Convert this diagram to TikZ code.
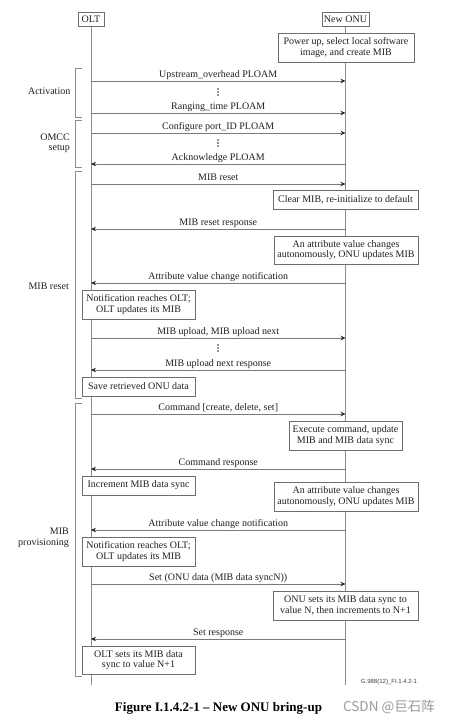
\documentclass[tikz,border=0pt]{standalone}
\usepackage{fontspec}
\setmainfont{Liberation Serif}
\newfontfamily\sansf{Liberation Sans}
\newfontfamily\cjkf{Noto Sans CJK SC}
\usetikzlibrary{arrows.meta}
\definecolor{lifegray}{HTML}{8C8C8C}
\definecolor{boxgray}{HTML}{6E6E6E}
\definecolor{txt}{HTML}{202020}
\definecolor{shaft}{HTML}{7A7A7A}
\begin{document}
\begin{tikzpicture}[x=1pt,y=-1pt,
  basefont/.style={font=\fontsize{10}{10.5}\selectfont, text=txt},
  head/.style={basefont, draw=boxgray, line width=0.8pt, fill=white, minimum height=14pt, inner sep=0pt},
  actbox/.style={basefont, draw=boxgray, line width=0.8pt, fill=white, inner sep=0pt, align=center},
  life/.style={draw=lifegray, line width=0.9pt},
  msg/.style={draw=shaft, line width=0.7pt, -{Stealth[length=5pt,width=4.5pt,color=black!85]}},
  msglab/.style={basefont, anchor=base, yshift=3.4pt, inner sep=0pt},
  brk/.style={draw=lifegray, line width=0.8pt},
  grplab/.style={basefont, align=right, anchor=east, inner sep=0pt},
  dotc/.style={fill=black!85, draw=none}
]
\useasboundingbox[fill=white] (0,0) rectangle (454,722);

% lifelines
\coordinate (oltend) at (91,685);
\coordinate (onuend) at (345.5,685);
\node[head, minimum width=26pt] (olt) at (91,19) {OLT};
\node[head, minimum width=47pt] (onu) at (345.5,19) {New ONU};
\draw[life] (olt.south) -- (oltend);
\draw[life] (onu.south) -- (onuend);
\node[head, minimum width=26pt] (olt) at (91,19) {OLT};
\node[head, minimum width=47pt] (onu) at (345.5,19) {New ONU};

% lifeline coordinates
\foreach \n/\y in {1/81,2/113,3/133,4/164,5/184,6/229,7/283,8/338,9/370,10/414,11/469,12/530,13/584,14/639}{
  \coordinate (o\n) at (91,\y);
  \coordinate (n\n) at (345.5,\y);
}

% action boxes
\node[actbox, minimum width=136pt, minimum height=29pt] (pwr) at (346,47.5) {Power up, select local software\\image, and create MIB};
\node[actbox, minimum width=145pt, minimum height=19pt] (clr) at (345.5,199.5) {Clear MIB, re-initialize to default};
\node[actbox, minimum width=144pt, minimum height=28pt] (attr1) at (346,250) {An attribute value changes\\autonomously, ONU updates MIB};
\node[actbox, minimum width=113pt, minimum height=29pt] (noti1) at (138.5,304.5) {Notification reaches OLT;\\OLT updates its MIB};
\node[actbox, minimum width=113pt, minimum height=19pt] (save) at (138.5,386.5) {Save retrieved ONU data};
\node[actbox, minimum width=113pt, minimum height=29pt] (exec) at (345.5,435.5) {Execute command, update\\MIB and MIB data sync};
\node[actbox, minimum width=113pt, minimum height=19pt] (incr) at (138.5,485.5) {Increment MIB data sync};
\node[actbox, minimum width=144pt, minimum height=29pt] (attr2) at (346,496.5) {An attribute value changes\\autonomously, ONU updates MIB};
\node[actbox, minimum width=113pt, minimum height=29pt] (noti2) at (138.5,551.5) {Notification reaches OLT;\\OLT updates its MIB};
\node[actbox, minimum width=145pt, minimum height=29pt] (onuset) at (345.5,605.5) {ONU sets its MIB data sync to\\value N, then increments to N+1};
\node[actbox, minimum width=113pt, minimum height=28pt] (oltset) at (138.5,660) {OLT sets its MIB data\\sync to value N+1};

% messages
\draw[msg] (o1) -- node[msglab]{Upstream\_overhead PLOAM} (n1);
\draw[msg] (o2) -- node[msglab]{Ranging\_time PLOAM} (n2);
\draw[msg] (o3) -- node[msglab]{Configure port\_ID PLOAM} (n3);
\draw[msg] (n4) -- node[msglab]{Acknowledge PLOAM} (o4);
\draw[msg] (o5) -- node[msglab]{MIB reset} (n5);
\draw[msg] (n6) -- node[msglab]{MIB reset response} (o6);
\draw[msg] (n7) -- node[msglab]{Attribute value change notification} (o7);
\draw[msg] (o8) -- node[msglab]{MIB upload, MIB upload next} (n8);
\draw[msg] (n9) -- node[msglab]{MIB upload next response} (o9);
\draw[msg] (o10) -- node[msglab]{Command [create, delete, set]} (n10);
\draw[msg] (n11) -- node[msglab]{Command response} (o11);
\draw[msg] (n12) -- node[msglab]{Attribute value change notification} (o12);
\draw[msg] (o13) -- node[msglab]{Set (ONU data (MIB data syncN))} (n13);
\draw[msg] (n14) -- node[msglab]{Set response} (o14);

% vertical ellipses
\foreach \y in {92,143,348}{
  \foreach \d in {-3,0,3}{ \fill[dotc] (218,\y+\d) circle (0.8pt); }
}

% brackets
\draw[brk] (82,68) -- (75.5,68) -- (75.5,117) -- (82,117);
\draw[brk] (82,120) -- (75.5,120) -- (75.5,167) -- (82,167);
\draw[brk] (82,171) -- (75.5,171) -- (75.5,398) -- (82,398);
\draw[brk] (82,403) -- (75.5,403) -- (75.5,676) -- (82,676);

% group labels
\node[grplab] (gact) at (70.5,91) {Activation};
\node[grplab] (gomcc) at (70,143.5) {OMCC\\setup};
\node[grplab] (greset) at (69,286) {MIB reset};
\node[grplab] (gprov) at (69,538) {MIB\\provisioning};

% figure id and caption
\node[font=\sansf\fontsize{6}{7}\selectfont, text=black!75, inner sep=0pt] (figid) at (389,682) {G.988(12)\_FI.1.4.2-1};
\node[font=\fontsize{13}{15}\selectfont\bfseries, text=black, inner sep=0pt] (cap) at (218.5,708) {Figure I.1.4.2-1 – New ONU bring-up};
\node[font=\cjkf\fontsize{13.5}{15}\selectfont, text=black!40, inner sep=0pt] (wm) at (389,707) {CSDN @巨石阵};
\end{tikzpicture}
\end{document}
